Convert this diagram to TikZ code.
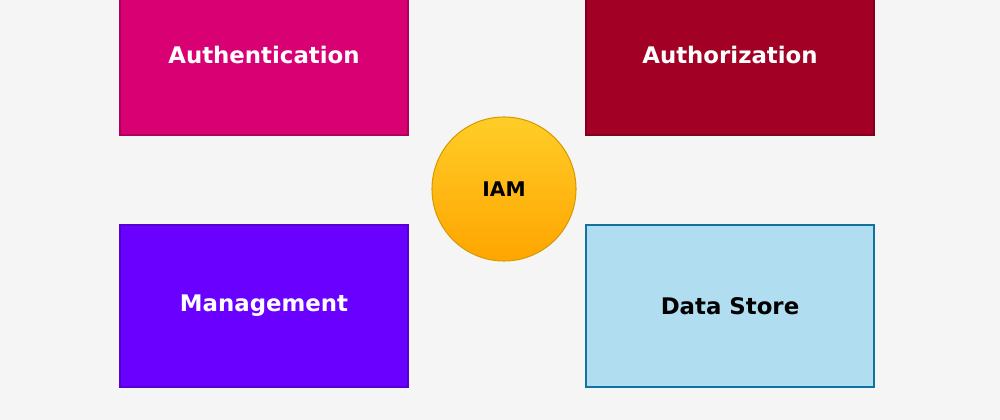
\documentclass[tikz,border=0pt]{standalone}
\usepackage{fontspec}
\setmainfont{DejaVu Sans}
\usetikzlibrary{positioning}
\definecolor{bgcol}{HTML}{F5F5F5}
\definecolor{authn}{HTML}{D80073}
\definecolor{authz}{HTML}{A20025}
\definecolor{mgmt}{HTML}{6A00FF}
\definecolor{store}{HTML}{B1DDF0}
\definecolor{storeline}{HTML}{10739E}
\definecolor{iamtop}{HTML}{FFCD28}
\definecolor{iambot}{HTML}{FFA500}
\definecolor{iamline}{HTML}{D79B00}
\tikzset{
  block/.style={rectangle, draw, minimum width=5.76cm, line width=.6pt, align=center, font=\bfseries\fontsize{13}{15}\selectfont, text=white},
  hub/.style={circle, draw=iamline, line width=.6pt, minimum size=2.88cm, top color=iamtop, bottom color=iambot, font=\bfseries\fontsize{11.5}{13}\selectfont}
}
\begin{document}
\begin{tikzpicture}
\fill[bgcol] (0,0) rectangle (20,8.4);
\useasboundingbox (0,0) rectangle (20,8.4);
\node[block, fill=authn, draw=authn!80!black, minimum height=3.2cm] (authn) at (5.28,7.3) {Authentication};
\node[block, fill=authz, draw=authz!80!black, minimum height=3.2cm] (authz) at (14.6,7.3) {Authorization};
\node[block, fill=mgmt, draw=mgmt!80!black, minimum height=3.24cm] (mgmt) at (5.28,2.28) {Management};
\node[block, fill=store, draw=storeline, text=black, minimum height=3.24cm] (store) at (14.6,2.28) {Data Store};
\node[hub] (iam) at (10.08,4.62) {IAM};
\end{tikzpicture}
\end{document}
